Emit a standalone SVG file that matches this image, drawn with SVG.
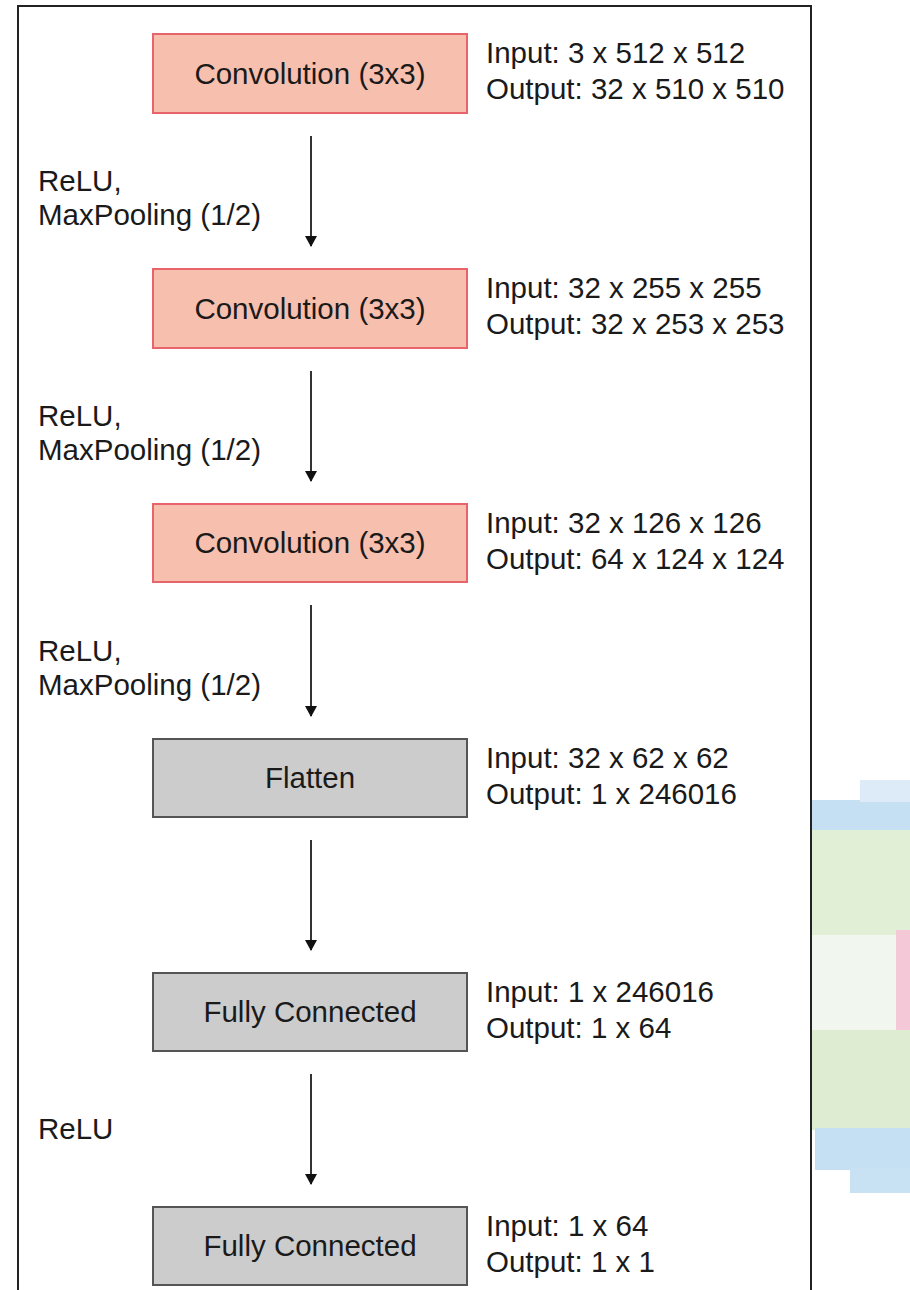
<svg xmlns="http://www.w3.org/2000/svg" width="910" height="1290" viewBox="0 0 910 1290">
<style>
.t{font-family:"Liberation Sans",Arial,sans-serif;font-size:29.5px;fill:#1a1a1a}
.c{text-anchor:middle}
.conv{fill:#f7bfae;stroke:#e8646a;stroke-width:2}
.gray{fill:#cccccc;stroke:#555;stroke-width:2}
.a{stroke:#333;stroke-width:2;fill:none;marker-end:url(#ah)}
</style>
<defs><marker id="ah" markerWidth="12" markerHeight="14" refX="10" refY="6" orient="auto" markerUnits="userSpaceOnUse"><path d="M0,0 L11,6 L0,12 Z" fill="#111"/></marker></defs>
<rect width="910" height="1290" fill="#fff"/>
<g id="artifact">
<rect x="812" y="800" width="98" height="32" fill="#c5e0f2"/>
<rect x="860" y="780" width="50" height="22" fill="#dcebf7"/>
<rect x="812" y="830" width="98" height="105" fill="#e0efd6"/>
<rect x="812" y="935" width="98" height="100" fill="#f1f7ee"/>
<rect x="896" y="930" width="14" height="100" fill="#f4c8d6"/>
<rect x="812" y="1030" width="98" height="100" fill="#deedd2"/>
<rect x="815" y="1128" width="95" height="42" fill="#c5e0f2"/>
<rect x="850" y="1168" width="60" height="25" fill="#c9e2f3"/>
</g>
<path d="M18,1290 V6 H811 V1290" fill="none" stroke="#222" stroke-width="2"/>
<g id="conv1"><rect class="conv" x="153" y="34" width="314" height="79"/><text class="t c" x="310" y="84">Convolution (3x3)</text></g>
<g id="conv2"><rect class="conv" x="153" y="269" width="314" height="79"/><text class="t c" x="310" y="319">Convolution (3x3)</text></g>
<g id="conv3"><rect class="conv" x="153" y="504" width="314" height="78"/><text class="t c" x="310" y="553">Convolution (3x3)</text></g>
<g id="flatten"><rect class="gray" x="153" y="739" width="314" height="78"/><text class="t c" x="310" y="788">Flatten</text></g>
<g id="fc1"><rect class="gray" x="153" y="973" width="314" height="78"/><text class="t c" x="310" y="1022">Fully Connected</text></g>
<g id="fc2"><rect class="gray" x="153" y="1207" width="314" height="78"/><text class="t c" x="310" y="1256">Fully Connected</text></g>
<g id="connectors">
<line class="a" x1="311" y1="136" x2="311" y2="246"/>
<line class="a" x1="311" y1="371" x2="311" y2="481"/>
<line class="a" x1="311" y1="605" x2="311" y2="716"/>
<line class="a" x1="311" y1="840" x2="311" y2="950"/>
<line class="a" x1="311" y1="1074" x2="311" y2="1184"/>
</g>
<g id="labels">
<text class="t" x="38" y="191">ReLU,</text><text class="t" x="38" y="225">MaxPooling (1/2)</text>
<text class="t" x="38" y="426">ReLU,</text><text class="t" x="38" y="460">MaxPooling (1/2)</text>
<text class="t" x="38" y="661">ReLU,</text><text class="t" x="38" y="695">MaxPooling (1/2)</text>
<text class="t" x="38" y="1139">ReLU</text>
<text class="t" x="486" y="63">Input: 3 x 512 x 512</text><text class="t" x="486" y="99">Output: 32 x 510 x 510</text>
<text class="t" x="486" y="298">Input: 32 x 255 x 255</text><text class="t" x="486" y="334">Output: 32 x 253 x 253</text>
<text class="t" x="486" y="533">Input: 32 x 126 x 126</text><text class="t" x="486" y="569">Output: 64 x 124 x 124</text>
<text class="t" x="486" y="768">Input: 32 x 62 x 62</text><text class="t" x="486" y="804">Output: 1 x 246016</text>
<text class="t" x="486" y="1002">Input: 1 x 246016</text><text class="t" x="486" y="1038">Output: 1 x 64</text>
<text class="t" x="486" y="1236">Input: 1 x 64</text><text class="t" x="486" y="1272">Output: 1 x 1</text>
</g>
</svg>
